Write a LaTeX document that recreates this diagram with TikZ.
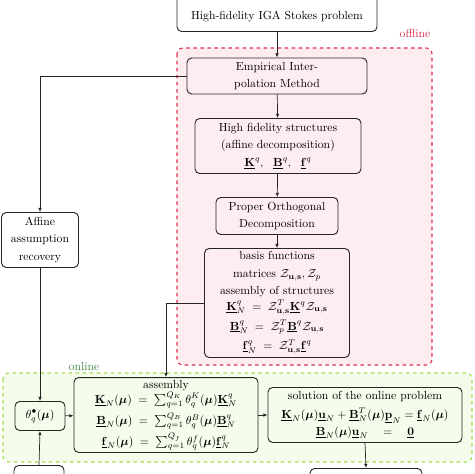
\documentclass[tikz,border=0pt]{standalone}
\usepackage{xcolor}
\usepackage{amsmath,bm}
\usetikzlibrary{arrows.meta}

\definecolor{offred}{RGB}{222,48,78}
\definecolor{offfill}{RGB}{253,237,240}
\definecolor{onlime}{RGB}{160,222,80}
\definecolor{onfill}{RGB}{245,252,236}
\definecolor{ontext}{RGB}{70,135,70}

\newcommand{\uK}{\underline{\mathbf{K}}}
\newcommand{\uB}{\underline{\mathbf{B}}}
\newcommand{\uf}{\underline{\mathbf{f}}}
\newcommand{\Zus}{\mathcal{Z}_{\mathbf{u},\mathbf{s}}}

\begin{document}
\begin{tikzpicture}[x=0.3mm, y=-0.3mm,
  box/.style={draw=black!85, line width=0.8pt, rounded corners=4pt, align=center,
    inner sep=2pt, font=\linespread{1.25}\selectfont},
  arr/.style={-{Latex[length=3.5pt,width=3pt]}, line width=0.6pt, draw=black!85}]
\useasboundingbox (0,0) rectangle (474,474);
\clip (0,0) rectangle (474,474);

% offline stage
\draw[offred, fill=offfill, dashed, line width=0.9pt, rounded corners=5pt] (177,48) rectangle (432,365);
\node[offred] (offl) at (415,33) {offline};
% online stage
\draw[onlime, fill=onfill, dashed, line width=0.9pt, rounded corners=5pt] (3,373) rectangle (472,462);
\node[ontext] (onl) at (84,366) {online};

\node[box, anchor=south, minimum width=60mm, text height=14mm, inner ysep=3mm] (hifi) at (277,32)
  {High-fidelity IGA Stokes problem};
\node[box, minimum width=54mm, minimum height=10.8mm] (eim) at (277,76)
  {Empirical Inter-\\polation Method};
\node[box, minimum width=49.8mm, minimum height=16.5mm] (hfs) at (278,146)
  {High fidelity structures\\(affine decomposition)\\$\uK^q,\ \ \uB^q,\ \ \uf^q$};
\node[box, minimum width=36.6mm, minimum height=11.1mm] (pod) at (277,216)
  {Proper Orthogonal\\Decomposition};
\node[box, minimum width=43.5mm, minimum height=32.7mm] (basis) at (277,303)
  {basis functions\\matrices $\Zus, \mathcal{Z}_p$\\assembly of structures\\[-2pt]
   $\uK_N^q \;=\; \mathcal{Z}^T_{\mathbf{u},\mathbf{s}}\uK^q\Zus$\\[2pt]
   $\uB_N^q \;=\; \mathcal{Z}^T_p\uB^q\Zus$\\[2pt]
   $\uf_N^q \;=\; \mathcal{Z}^T_{\mathbf{u},\mathbf{s}}\uf^q$};
\node[box, fill=white, minimum width=23.1mm, minimum height=16.5mm] (aff) at (40,240)
  {Affine\\assumption\\recovery};
\node[box, minimum width=15mm, minimum height=8.7mm] (theta) at (40,416)
  {$\theta_q^{\bullet}(\bm{\mu})$};
\node[box, minimum width=55.2mm, minimum height=21.9mm] (asm) at (166,415)
  {assembly\\[-2pt]
   $\uK_N(\bm{\mu}) \;=\; \sum_{q=1}^{Q_K}\theta_q^K(\bm{\mu})\uK_N^q$\\[3pt]
   $\uB_N(\bm{\mu}) \;=\; \sum_{q=1}^{Q_B}\theta_q^B(\bm{\mu})\uB_N^q$\\[3pt]
   $\uf_N(\bm{\mu}) \;=\; \sum_{q=1}^{Q_f}\theta_q^f(\bm{\mu})\uf_N^q$};
\node[box, minimum width=58.2mm, minimum height=16.5mm] (sol) at (365,415)
  {solution of the online problem\\[1pt]
   $\uK_N(\bm{\mu})\underline{\mathbf{u}}_N + \uB_N^T(\bm{\mu})\underline{\mathbf{p}}_N = \uf_N(\bm{\mu})$\\
   $\uB_N(\bm{\mu})\underline{\mathbf{u}}_N \quad=\quad \underline{\mathbf{0}}$};
\node[box, fill=white, anchor=north, minimum width=15mm, minimum height=10mm] (bleft) at (39,465) {};
\node[box, fill=white, anchor=north, minimum width=33.6mm, minimum height=10mm] (bright) at (366,468) {};

\draw[arr] (hifi.south) -- (eim.north);
\draw[arr] (eim) -- (hfs);
\draw[arr] (hfs) -- (pod);
\draw[arr] (pod) -- (basis);
\draw[arr] (eim.west) -| (aff.north);
\draw[arr] (aff.south) -- (theta.north);
\draw[arr] (bleft.north) -- (theta.south);
\draw[arr] (basis.west) -| (asm.north);
\draw[arr] (theta) -- (asm);
\draw[arr] (asm) -- (sol);
\draw[arr] (sol.south) -- (bright.north);
\end{tikzpicture}
\end{document}
